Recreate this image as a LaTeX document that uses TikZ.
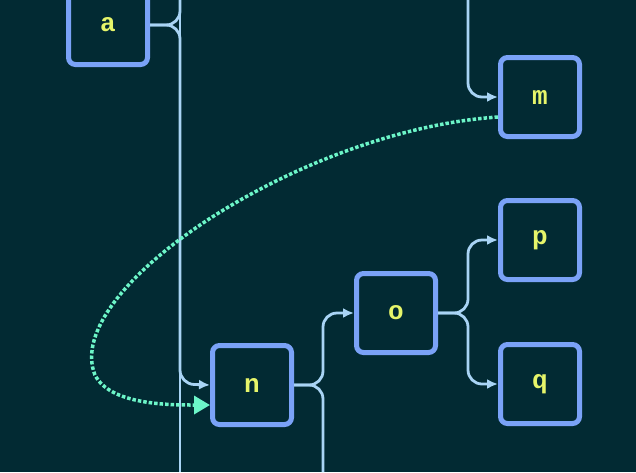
\documentclass[tikz,border=0pt]{standalone}
\usepackage{fontspec}
\setmonofont{Liberation Mono}
\usetikzlibrary{arrows.meta}
\definecolor{bg}{HTML}{022A33}
\definecolor{bord}{HTML}{7AA2F7}
\definecolor{lab}{HTML}{E6F56A}
\definecolor{wire}{HTML}{A9D4F5}
\definecolor{dot}{HTML}{6CF5C8}
\tikzset{box/.style={draw=bord,line width=5pt,fill=bg,rounded corners=7pt,minimum width=79pt,minimum height=79pt,text=lab,font=\ttfamily\bfseries\fontsize{26}{26}\selectfont},
wr/.style={draw=wire,line width=2.8pt,rounded corners=14pt},
arr/.style={wr,-{Latex[length=11pt,width=10pt]}}}
\begin{document}
\begin{tikzpicture}[x=1pt,y=-1pt]
\fill[bg] (0,0) rectangle (636,472);
\useasboundingbox (0,0) rectangle (636,472);
\coordinate (t1) at (180,0);
\coordinate (b1) at (180,472);
\coordinate (t2) at (468,0);
\coordinate (b2) at (323,472);
\draw[wr] (t1) -- (b1);
\node[box] (a) at (108,25) {a};
\node[box] (m) at (540,97) {m};
\node[box] (p) at (540,240) {p};
\node[box] (q) at (540,384) {q};
\node[box] (o) at (396,313) {o};
\node[box] (n) at (252,385) {n};
\draw[wr] (a.east) -- (180,25) -- (180,-20);
\draw[arr] (a.east) -- (180,25) -- (180,384) -- (n.west);
\draw[arr] (t2) -- (468,97) -- (m.west);
\draw[arr] (n.east) -- (323,385) -- (323,313) -- (o.west);
\draw[wr] (n.east) -- (323,385) -- (b2);
\draw[arr] (o.east) -- (468,313) -- (468,240) -- (p.west);
\draw[arr] (o.east) -- (468,313) -- (468,384) -- (q.west);
\draw[dot,line width=3.5pt,dotted,-{Triangle[length=16pt,width=18pt]}] ([yshift=-20pt]m.west) .. controls (300,130) and (60,290) .. (95,375) .. controls (110,405) and (170,405) .. ([yshift=-20pt]n.west);
\end{tikzpicture}
\end{document}
